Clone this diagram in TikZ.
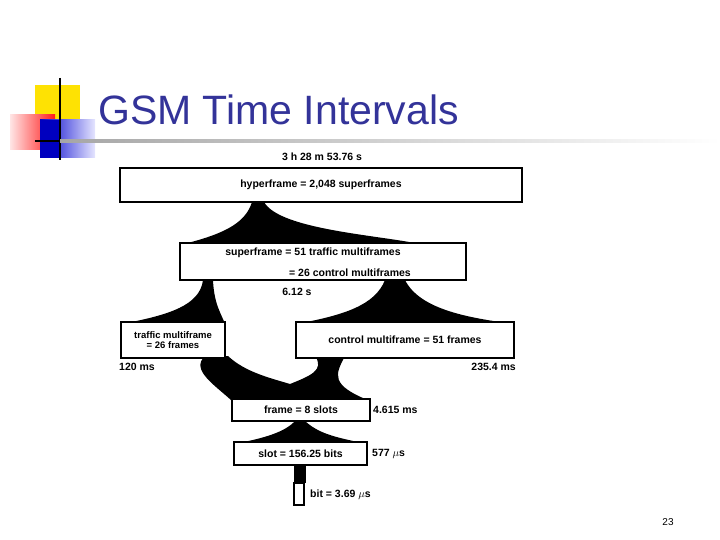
\documentclass[tikz,border=0pt]{standalone}
\usepackage{fontspec}
\setmainfont{Liberation Sans}
\definecolor{titleblue}{RGB}{51,51,153}
\begin{document}
\begin{tikzpicture}[x=1pt,y=-1pt,
 box/.style={draw,line width=1.5pt,fill=white,inner sep=0pt,font=\bfseries\fontsize{10.5}{11}\selectfont},
 lab/.style={font=\bfseries\fontsize{10.5}{11}\selectfont,inner sep=1pt},
 fan/.style={fill=black}]
\useasboundingbox (0,0) rectangle (720,540);
% logo
\fill[yellow!85!orange] (35,85) rectangle (80,130);
\shade[left color=red!10,right color=red!90] (10,115) rectangle (55,150);
\shade[left color=blue!80!black,right color=blue!10] (40,120) rectangle (95,158);
\fill[blue!75!black] (40,120) rectangle (60,158);
\draw[line width=1.5pt] (60,78) -- (60,160);
\draw[line width=1.2pt] (35,141) -- (100,141);
\shade[left color=gray!70,right color=white] (60,140) rectangle (720,142.5);
\node[anchor=west,text=titleblue,font=\fontsize{41}{44}\selectfont,inner sep=0pt] (title) at (98,110) {GSM Time Intervals};
% fans
\fill[fan] (252,202) -- (264,202) .. controls (280,230) and (380,235) .. (425,245) -- (180,245) .. controls (220,235) and (245,225) .. cycle;
\fill[fan] (203,280) -- (213,280) .. controls (214,305) and (222,315) .. (225,324) -- (121,324) .. controls (170,315) and (200,305) .. cycle;
\fill[fan] (385,280) -- (405,280) .. controls (420,310) and (470,318) .. (514,324) -- (296,324) .. controls (345,315) and (375,305) .. cycle;
\fill[fan] (205,356) -- (228,356) .. controls (245,372) and (270,378) .. (290,384) .. controls (310,376) and (325,370) .. (315,356) -- (345,356) .. controls (335,375) and (330,385) .. (370,401) -- (232,401) .. controls (215,385) and (190,370) .. cycle;
\fill[fan] (295,421) -- (305,421) .. controls (320,435) and (340,438) .. (367,444) -- (234,444) .. controls (265,438) and (285,432) .. cycle;
\fill[fan] (294,465) rectangle (306,483);
% boxes
\node[box,minimum width=402,minimum height=34] (hyper) at (321,185) {hyperframe = 2,048 superframes};
\node[box,minimum width=286,minimum height=37] (super) at (323,261.5) {};
\node[lab] (s1) at (313,253) {superframe = 51 traffic multiframes};
\node[lab] (s2) at (350,273) {= 26 control multiframes};
\node[box,minimum width=104,minimum height=36,align=center,font=\bfseries\fontsize{9.5}{10.5}\selectfont] (traffic) at (173,340) {traffic multiframe\\= 26 frames};
\node[box,minimum width=218,minimum height=36] (control) at (405,340) {control multiframe = 51 frames};
\node[box,minimum width=138,minimum height=22] (frame) at (301,410) {frame = 8 slots};
\node[box,minimum width=133,minimum height=23] (slot) at (300.5,453.5) {slot = 156.25 bits};
\node[box,minimum width=10,minimum height=22] (bit) at (299,494) {};
% labels
\node[lab] (l0) at (322,157) {3 h 28 m 53.76 s};
\node[lab] (l1) at (297,292) {6.12 s};
\node[lab,anchor=west] (l2) at (118,367) {120 ms};
\node[lab,anchor=east] (l3) at (517,367) {235.4 ms};
\node[lab,anchor=west] (l4) at (372,410) {4.615 ms};
\node[lab,anchor=west] (l5) at (371,454) {577 $\mu$s};
\node[lab,anchor=west] (l6) at (309,495) {bit = 3.69 $\mu$s};
\node[font=\fontsize{10}{12}\selectfont] (pg) at (668,522) {23};
\end{tikzpicture}
\end{document}
